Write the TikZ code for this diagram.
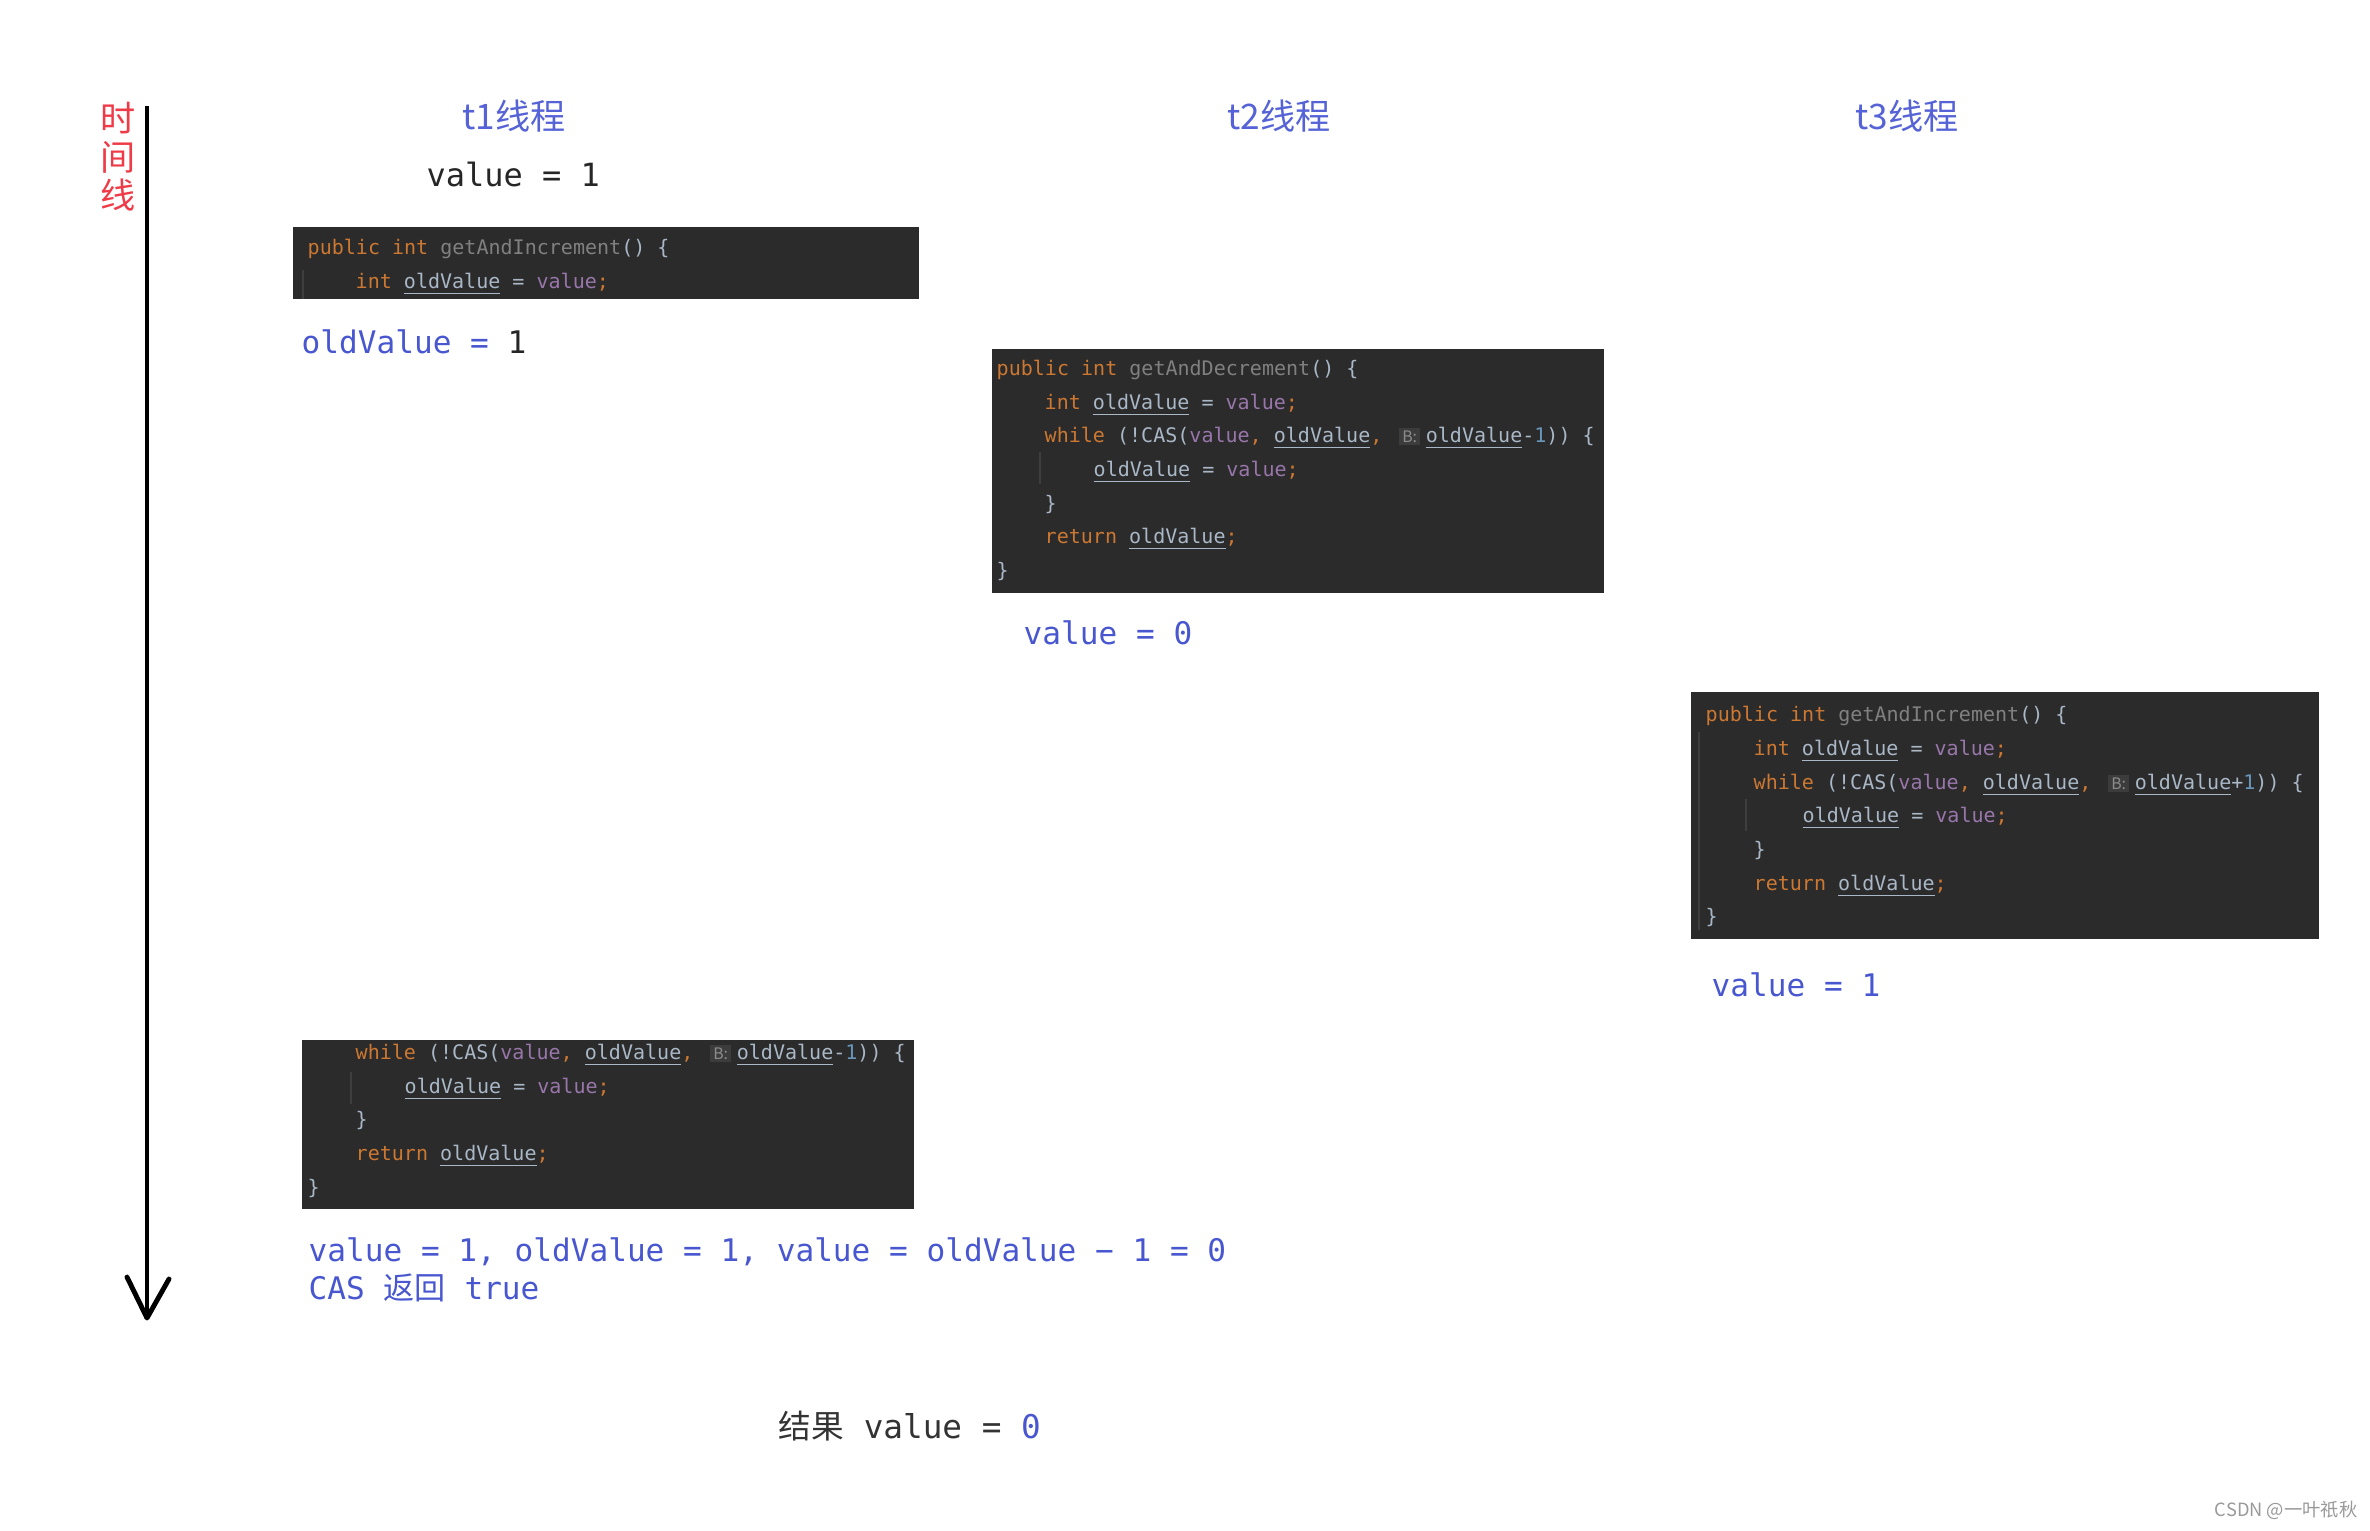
\documentclass[tikz,border=0pt]{standalone}
\usepackage{fontspec}
\newfontfamily\cjk{Noto Sans CJK SC}
\newfontfamily\codefont{DejaVu Sans Mono}
\usetikzlibrary{positioning}
\definecolor{codebg}{HTML}{2B2B2B}
\definecolor{kwc}{HTML}{CC7832}
\definecolor{fnc}{HTML}{808080}
\definecolor{varc}{HTML}{9876AA}
\definecolor{txtc}{HTML}{A9B7C6}
\definecolor{numc}{HTML}{6897BB}
\definecolor{labc}{HTML}{4857D0}
\definecolor{headc}{HTML}{5663D6}
\definecolor{redc}{HTML}{EE3B47}
\definecolor{hintbg}{HTML}{3C3C3C}
\definecolor{hintfg}{HTML}{8C8C8C}
\definecolor{guidec}{HTML}{3E3E3E}
\newcommand\kw[1]{\textcolor{kwc}{#1}}
\newcommand\vr[1]{\textcolor{varc}{#1}}
\newcommand\fn[1]{\textcolor{fnc}{#1}}
\newcommand\nm[1]{\textcolor{numc}{#1}}
\newcommand\ov{\underline{oldValue}}
\newcommand\hint{\hspace{0.85em}{\setlength\fboxsep{0.8pt}\colorbox{hintbg}{\textcolor{hintfg}{\cjk\fontsize{4.5}{5}\selectfont B:}}}\hspace{0.3em}}

\begin{document}
\begin{tikzpicture}[x=0.1mm,y=-0.1mm,
  code/.style={anchor=base west,inner sep=0,font=\codefont\fontsize{5.7}{7}\selectfont,text=txtc},
  lab/.style={anchor=base west,inner sep=0,font=\codefont\fontsize{8.85}{10}\selectfont,text=labc},
  head/.style={font=\cjk\fontsize{10}{12}\selectfont,text=headc},
  guide/.style={guidec,line width=.5pt}]
\useasboundingbox (0,0) rectangle (2370,1530);
% time line
\node[font=\cjk\fontsize{10}{10.95}\selectfont,text=redc,align=center] (tlbl) at (118,157) {时\\间\\线};
\coordinate (tstart) at (147,106);
\coordinate (tend) at (147,1318);
\draw[line width=1.4pt] (tstart) -- (tend);
\draw[line width=1.4pt,line cap=round,line join=round] (127,1277) -- (tend) -- (169,1279);
\foreach \n/\x in {1/514,2/1279,3/1907}{\node[head] (th\n) at (\x,116) {t\n{}线程};}
\node[lab,text=black!85,font=\codefont\fontsize{9.1}{10}\selectfont] (v0) at (426,186) {value = 1};
% code boxes
\foreach \a/\b/\c/\d in {293/227/919/299,992/349/1604/593,1691/692/2319/939,302/1040/914/1209}{\fill[codebg] (\a,\b) rectangle (\c,\d);}
\draw[guide] (303,270) -- (303,299);
\draw[guide] (1040,452) -- (1040,484);
\draw[guide] (1699,732) -- (1699,930);
\draw[guide] (1746,799) -- (1746,831);
\draw[guide] (351,1072) -- (351,1104);
% t1
\node[code] (a1) at (307,254) {\kw{public int} \fn{getAndIncrement}() \{};
\node[code] (a2) at (355,288) {\kw{int} \ov{} = \vr{value}\kw{;}};
\node[lab] (ov1) at (301,353) {oldValue = \textcolor{black!85}{1}};
% t2
\node[code] (b1) at (996,375) {\kw{public int} \fn{getAndDecrement}() \{};
\node[code] (b2) at (1044,409) {\kw{int} \ov{} = \vr{value}\kw{;}};
\node[code] (b3) at (1044,442) {\kw{while} (!CAS(\vr{value}\kw{,} \ov\kw{,}\hint\ov-\nm{1})) \{};
\node[code] (b4) at (1093,476) {\ov{} = \vr{value}\kw{;}};
\node[code] (b5) at (1044,510) {\}};
\node[code] (b6) at (1044,543) {\kw{return} \ov\kw{;}};
\node[code] (b7) at (996,577) {\}};
\node[lab] (v2) at (1023,644) {value = 0};
% t3
\node[code] (c1) at (1705,721) {\kw{public int} \fn{getAndIncrement}() \{};
\node[code] (c2) at (1753,755) {\kw{int} \ov{} = \vr{value}\kw{;}};
\node[code] (c3) at (1753,789) {\kw{while} (!CAS(\vr{value}\kw{,} \ov\kw{,}\hint\ov+\nm{1})) \{};
\node[code] (c4) at (1802,822) {\ov{} = \vr{value}\kw{;}};
\node[code] (c5) at (1753,856) {\}};
\node[code] (c6) at (1753,890) {\kw{return} \ov\kw{;}};
\node[code] (c7) at (1705,923) {\}};
\node[lab] (v3) at (1711,996) {value = 1};
% t1 again
\node[code] (d1) at (355,1059) {\kw{while} (!CAS(\vr{value}\kw{,} \ov\kw{,}\hint\ov-\nm{1})) \{};
\node[code] (d2) at (404,1093) {\ov{} = \vr{value}\kw{;}};
\node[code] (d3) at (355,1126) {\}};
\node[code] (d4) at (355,1160) {\kw{return} \ov\kw{;}};
\node[code] (d5) at (307,1194) {\}};
\node[lab] (cas1) at (308,1261) {value = 1, oldValue = 1, value = oldValue − 1 = 0};
\node[lab] (cas2) at (308,1299) {CAS {\cjk 返回} true};
\node[lab,text=black!80,font=\codefont\fontsize{9.3}{10}\selectfont] (res) at (778,1438) {{\cjk 结果} value = \textcolor{labc}{0}};
\node[anchor=base east,inner sep=0,font=\cjk\fontsize{5.2}{6}\selectfont,text=black!40] (wm) at (2358,1516) {CSDN @一叶祇秋};
\end{tikzpicture}
\end{document}
